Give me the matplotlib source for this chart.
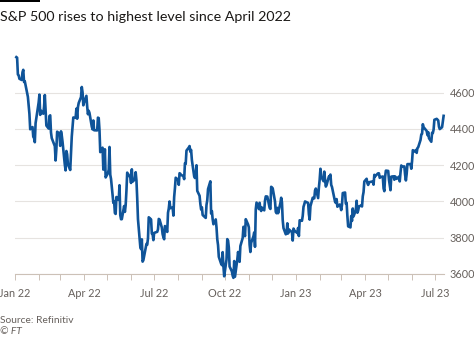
import matplotlib
matplotlib.use("Agg")
import matplotlib.pyplot as plt
import matplotlib.dates as mdates
import pandas as pd
from matplotlib.patches import Rectangle

title = "S&P 500 rises to highest level since April 2022"
source = "Source: Refinitiv"
credit = "© FT"

start_date = "2022-01-03"
end_date = "2023-07-12"
market_holidays = ["2022-01-17", "2022-02-21", "2022-04-15", "2022-05-30", "2022-06-20",
                   "2022-07-04", "2022-09-05", "2022-11-24", "2022-12-26", "2023-01-02",
                   "2023-01-16", "2023-02-20", "2023-04-07", "2023-05-29", "2023-06-19",
                   "2023-07-04"]

closes = [
    # Jan 2022
    4796.56, 4793.54, 4700.58, 4696.05, 4677.03, 4670.29, 4713.07, 4726.35, 4659.03, 4662.85,
    4577.11, 4532.76, 4482.73, 4397.94, 4410.13, 4356.45, 4349.93, 4326.51, 4431.85, 4515.55,
    # Feb 2022
    4546.54, 4589.38, 4477.44, 4500.53, 4483.87, 4521.54, 4587.18, 4504.08, 4418.64, 4401.67,
    4471.07, 4475.01, 4380.26, 4348.87, 4304.76, 4225.50, 4288.70, 4384.65, 4373.94,
    # Mar 2022
    4306.26, 4386.54, 4363.49, 4328.87, 4201.09, 4170.70, 4277.88, 4259.52, 4204.31, 4173.11,
    4262.45, 4357.86, 4411.67, 4463.12, 4461.18, 4511.61, 4456.24, 4520.16, 4543.06, 4575.52,
    4631.60, 4602.45, 4530.41,
    # Apr 2022
    4545.86, 4582.64, 4525.12, 4481.15, 4500.21, 4488.28, 4412.53, 4397.45, 4446.59, 4392.59,
    4391.69, 4462.21, 4459.45, 4393.66, 4271.78, 4296.12, 4175.20, 4183.96, 4287.50, 4131.93,
    # May 2022
    4155.38, 4175.48, 4300.17, 4146.87, 4123.34, 3991.24, 4001.05, 3935.18, 3930.08, 4023.89,
    4008.01, 4088.85, 3923.68, 3900.79, 3901.36, 3973.75, 3941.48, 3978.73, 4057.84, 4158.24,
    4132.15,
    # Jun 2022
    4101.23, 4176.82, 4108.54, 4121.43, 4160.68, 4115.77, 4017.82, 3900.86, 3749.63, 3735.48,
    3789.99, 3666.77, 3674.84, 3764.79, 3759.89, 3795.73, 3911.74, 3900.11, 3821.55, 3818.83,
    3785.38,
    # Jul 2022
    3825.33, 3831.39, 3845.08, 3902.62, 3899.38, 3854.43, 3818.80, 3801.78, 3790.38, 3863.16,
    3830.85, 3936.69, 3959.90, 3998.95, 3961.63, 3966.84, 3921.05, 4023.61, 4072.43, 4130.29,
    # Aug 2022
    4118.63, 4091.19, 4155.17, 4151.94, 4145.19, 4140.06, 4122.47, 4210.24, 4207.27, 4280.15,
    4297.14, 4305.20, 4274.04, 4283.74, 4228.48, 4137.99, 4128.73, 4140.77, 4199.12, 4057.66,
    4030.61, 3986.16, 3955.00,
    # Sep 2022
    3966.85, 3924.26, 3908.19, 3979.87, 4006.18, 4067.36, 4110.41, 3932.69, 3946.01, 3901.35,
    3873.33, 3899.89, 3855.93, 3789.93, 3757.99, 3693.23, 3655.04, 3647.29, 3719.04, 3640.47,
    3585.62,
    # Oct 2022
    3678.43, 3790.93, 3783.28, 3744.52, 3639.66, 3612.39, 3588.84, 3577.03, 3669.91, 3583.07,
    3677.95, 3719.98, 3695.16, 3665.78, 3752.75, 3797.34, 3859.11, 3830.60, 3807.30, 3901.06,
    3871.98,
    # Nov 2022
    3856.10, 3759.69, 3719.89, 3770.55, 3806.80, 3828.11, 3748.57, 3956.37, 3992.93, 3957.25,
    3991.73, 3958.79, 3946.56, 3965.34, 3949.94, 4003.58, 4027.26, 4026.12, 3963.94, 3957.63,
    4080.11,
    # Dec 2022
    4076.57, 4071.70, 3998.84, 3941.26, 3933.92, 3963.51, 3934.38, 3990.56, 4019.65, 3995.32,
    3895.75, 3852.36, 3817.66, 3821.62, 3878.44, 3822.39, 3844.82, 3829.25, 3783.22, 3849.28,
    3839.50,
    # Jan 2023
    3824.14, 3852.97, 3808.10, 3895.08, 3892.09, 3919.25, 3969.61, 3983.17, 3999.09, 3990.97,
    3928.86, 3898.85, 3972.61, 4019.81, 4016.95, 4016.22, 4060.43, 4070.56, 4017.77, 4076.60,
    # Feb 2023
    4119.21, 4179.76, 4136.48, 4111.08, 4164.00, 4117.86, 4081.50, 4090.46, 4137.29, 4136.13,
    4147.60, 4090.41, 4079.09, 3997.34, 3991.05, 4012.32, 3970.04, 3982.24, 3970.15,
    # Mar 2023
    3951.39, 3981.35, 4045.64, 4048.42, 3986.37, 3992.01, 3918.32, 3861.59, 3855.76, 3919.29,
    3891.93, 3960.28, 3916.64, 3951.57, 4002.87, 3936.97, 3948.72, 3970.99, 3977.53, 3971.27,
    4027.81, 4050.83, 4109.31,
    # Apr 2023
    4124.51, 4100.60, 4090.38, 4105.02, 4109.11, 4108.94, 4091.95, 4146.22, 4137.64, 4151.32,
    4154.87, 4154.52, 4129.79, 4133.52, 4137.04, 4071.63, 4055.99, 4135.35, 4169.48,
    # May 2023
    4167.87, 4119.58, 4090.75, 4061.22, 4136.25, 4138.12, 4119.17, 4137.64, 4130.62, 4124.08,
    4136.28, 4109.90, 4158.77, 4198.05, 4191.98, 4192.63, 4145.58, 4115.24, 4151.28, 4205.45,
    4205.52, 4179.83,
    # Jun 2023
    4221.02, 4282.37, 4273.79, 4283.85, 4267.52, 4293.93, 4298.86, 4338.93, 4369.01, 4372.59,
    4425.84, 4409.59, 4388.71, 4365.69, 4381.89, 4348.33, 4328.82, 4378.41, 4376.86, 4396.44,
    4450.38,
    # Jul 2023
    4455.59, 4446.82, 4411.59, 4398.95, 4409.53, 4439.26, 4472.16,
]

y_ticks = [3600, 3800, 4000, 4200, 4400, 4600]

dates = pd.bdate_range(start_date, end_date, freq="C", holidays=market_holidays)
assert len(dates) == len(closes), (len(dates), len(closes))

LINE = "#0f5499"
GRID = "#e6e3e0"
TXT = "#66605c"
FONT = "Lato"

fig = plt.figure(figsize=(4.74, 3.38), dpi=100, facecolor="white")
ax_left, ax_right = 14.8, 444.0
ax = fig.add_axes([ax_left / 474, 1 - 273.7 / 338, (ax_right - ax_left) / 474,
                   (273.7 - 56.5) / 338])
ax.set_facecolor("white")

ax.plot(dates, closes, color=LINE, lw=1.9, clip_on=False, zorder=3, solid_joinstyle="round")

ax.set_xlim(pd.Timestamp("2022-01-01"), pd.Timestamp("2023-07-12") + pd.Timedelta(hours=12))
ax.set_ylim(3600, 4800)

for s in ["top", "right", "left"]:
    ax.spines[s].set_visible(False)
ax.spines["bottom"].set_color("#ccc1b7")
ax.spines["bottom"].set_linewidth(0.8)

ax.yaxis.tick_right()
ax.set_yticks(y_ticks)
ax.set_yticklabels([str(v) for v in y_ticks])
ax.tick_params(axis="y", length=0, pad=4, labelsize=7.8, labelcolor=TXT)
ax.grid(axis="y", color=GRID, lw=0.8)
ax.set_axisbelow(True)

ax.xaxis.set_major_locator(mdates.MonthLocator(bymonth=[1, 4, 7, 10]))
ax.xaxis.set_major_formatter(mdates.DateFormatter("%b %y"))
ax.xaxis.set_minor_locator(mdates.MonthLocator())
ax.tick_params(axis="x", which="both", length=4, width=0.7, color="#ccc1b7",
               labelsize=7.8, labelcolor=TXT, pad=6.5)

for lab in ax.get_xticklabels() + ax.get_yticklabels():
    lab.set_fontfamily(FONT)

fig.text(0.0, 1 - 17 / 338, title, fontsize=10.3, fontfamily=FONT, color="#1a1816",
         ha="left", va="center")
fig.text(0.0, 1 - 320.5 / 338, source, fontsize=7.4, fontfamily=FONT, color=TXT,
         ha="left", va="center")
fig.text(0.0, 1 - 332 / 338, credit, fontsize=7.4, fontfamily=FONT, color=TXT,
         ha="left", va="center", style="italic")
fig.patches.append(Rectangle((0, 1 - 2 / 338), 40 / 474, 2 / 338, transform=fig.transFigure,
                             facecolor="black", edgecolor="none"))

fig.savefig("out.png", dpi=100, facecolor="white")
